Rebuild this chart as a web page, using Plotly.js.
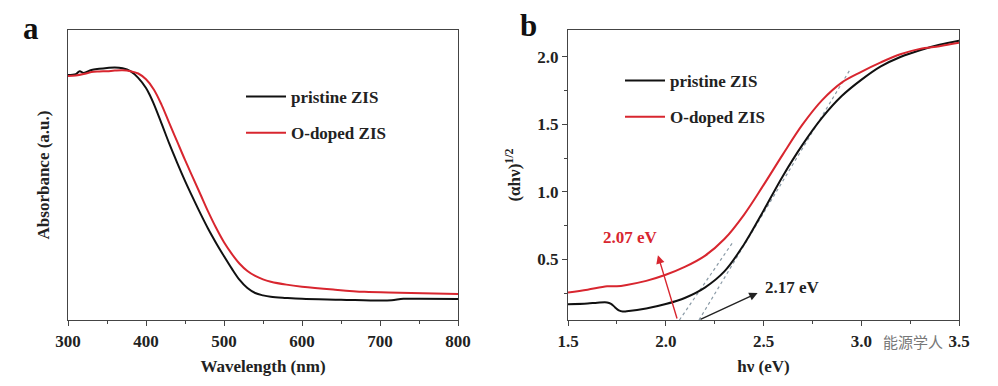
<!DOCTYPE html>
<html><head><meta charset="utf-8">
<script src="https://cdn.plot.ly/plotly-3.0.1.min.js"></script>
<style>html,body{margin:0;padding:0;background:#fff}#chart{width:998px;height:386px}</style>
</head><body><div id="chart"></div>
<script>
// ---- Panel a: absorbance spectra ----
const wavelength = [300,310,315,320,330,340,350,360,370,380,390,400,405,410,420,430,440,450,460,470,480,490,500,510,520,530,540,550,560,580,600,650,700,715,730,750,800];
const absPristine = [0.845,0.848,0.858,0.852,0.862,0.866,0.869,0.871,0.868,0.858,0.835,0.80,0.775,0.745,0.677,0.607,0.542,0.48,0.422,0.366,0.313,0.265,0.22,0.177,0.138,0.110,0.093,0.085,0.080,0.076,0.073,0.070,0.067,0.068,0.073,0.073,0.072];
const wavelengthRed = [300,310,320,330,340,350,360,370,380,390,400,410,420,430,440,450,460,470,480,490,500,510,520,530,540,550,560,580,600,640,680,725,800];
const absDoped = [0.841,0.843,0.848,0.855,0.857,0.858,0.86,0.861,0.858,0.85,0.83,0.795,0.742,0.678,0.615,0.552,0.492,0.432,0.372,0.317,0.268,0.228,0.194,0.169,0.152,0.14,0.132,0.122,0.115,0.105,0.097,0.094,0.09];

// ---- Panel b: Tauc plot ----
const energyBlack = [1.5,1.6,1.65,1.7,1.72,1.74,1.76,1.78,1.8,1.9,2.0,2.1,2.2,2.3,2.4,2.5,2.6,2.7,2.8,2.9,3.0,3.1,3.2,3.3,3.4,3.5];
const taucPristine = [0.166,0.172,0.178,0.18,0.17,0.145,0.122,0.113,0.115,0.135,0.168,0.215,0.29,0.41,0.61,0.86,1.12,1.35,1.55,1.71,1.83,1.93,2.0,2.05,2.09,2.12];
const energyRed = [1.5,1.6,1.7,1.75,1.8,1.9,2.0,2.1,2.2,2.3,2.4,2.5,2.6,2.7,2.8,2.9,3.0,3.1,3.2,3.3,3.4,3.5];
const taucDoped = [0.253,0.275,0.30,0.30,0.31,0.34,0.385,0.445,0.525,0.65,0.83,1.05,1.28,1.50,1.68,1.81,1.89,1.96,2.02,2.06,2.08,2.105];

// tangent (extrapolation) lines
const tangentBlackX = [2.17, 2.94];
const tangentBlackY = [0.05, 1.90];
const tangentRedX = [2.07, 2.34];
const tangentRedY = [0.05, 0.62];

const seriesNames = ['pristine ZIS', 'O-doped ZIS'];
const gapLabels = ['2.07 eV', '2.17 eV'];

const RED = '#d8262f';
const BLK = '#111111';
const SERIF = 'Liberation Serif, Times New Roman, serif';
const tickF = {family: SERIF, size: 17, color: '#222', weight: 700};
const titleF = {family: SERIF, size: 17, color: '#222', weight: 700};
const LINE = {width: 2, shape: 'spline', smoothing: 1};

const traces = [
  {x: wavelength, y: absPristine, type: 'scatter', mode: 'lines', name: seriesNames[0], line: Object.assign({color: BLK}, LINE), xaxis: 'x', yaxis: 'y', legend: 'legend', legendgroup: 'a1'},
  {x: wavelengthRed, y: absDoped, type: 'scatter', mode: 'lines', name: seriesNames[1], line: Object.assign({color: RED}, LINE), xaxis: 'x', yaxis: 'y', legend: 'legend', legendgroup: 'a2'},
  {x: tangentBlackX, y: tangentBlackY, type: 'scatter', mode: 'lines', showlegend: false, line: {color: '#8a9aa6', width: 1.2, dash: 'dot'}, xaxis: 'x2', yaxis: 'y2', hoverinfo: 'skip'},
  {x: tangentRedX, y: tangentRedY, type: 'scatter', mode: 'lines', showlegend: false, line: {color: '#8a9aa6', width: 1.2, dash: 'dot'}, xaxis: 'x2', yaxis: 'y2', hoverinfo: 'skip'},
  {x: energyBlack, y: taucPristine, type: 'scatter', mode: 'lines', name: seriesNames[0], line: Object.assign({color: BLK}, LINE), xaxis: 'x2', yaxis: 'y2', legend: 'legend2', legendgroup: 'b1'},
  {x: energyRed, y: taucDoped, type: 'scatter', mode: 'lines', name: seriesNames[1], line: Object.assign({color: RED}, LINE), xaxis: 'x2', yaxis: 'y2', legend: 'legend2', legendgroup: 'b2'}
];

const axisCommon = {showline: true, mirror: true, linecolor: '#444', linewidth: 1.2, showgrid: false, zeroline: false, ticks: 'outside', ticklen: 5, tickwidth: 1, tickcolor: '#444', tickfont: tickF};
const yDom = [1 - 320/386, 1 - 30/386];

const layout = {
  width: 998, height: 386,
  margin: {l: 0, r: 0, t: 0, b: 0},
  paper_bgcolor: '#fff', plot_bgcolor: '#fff',
  showlegend: true,
  xaxis: Object.assign({}, axisCommon, {domain: [68/998, 458/998], range: [300, 800], dtick: 100, tick0: 300,
    minor: {ticks: 'outside', ticklen: 3, dtick: 50, tickcolor: '#444'},
    title: {text: 'Wavelength (nm)', font: titleF, standoff: 10}, anchor: 'y'}),
  yaxis: Object.assign({}, axisCommon, {domain: yDom, range: [0, 1], ticks: '', showticklabels: false,
    title: {text: 'Absorbance (a.u.)', font: titleF, standoff: 12}, anchor: 'x'}),
  xaxis2: Object.assign({}, axisCommon, {domain: [568/998, 959/998], range: [1.5, 3.5], dtick: 0.5, tick0: 1.5, tickformat: '.1f',
    minor: {ticks: 'outside', ticklen: 3, dtick: 0.25, tickcolor: '#444'},
    title: {text: 'hν (eV)', font: titleF, standoff: 10}, anchor: 'y2'}),
  yaxis2: Object.assign({}, axisCommon, {domain: yDom, range: [0.05, 2.2], dtick: 0.5, tick0: 0, tickformat: '.1f',
    minor: {ticks: 'outside', ticklen: 3, dtick: 0.25, tickcolor: '#444'},
    title: {text: '(αhν)<sup>1/2</sup>', font: titleF, standoff: 12}, anchor: 'x2'}),
  legend: {x: 241/998, y: 1 - 79/386, xanchor: 'left', yanchor: 'top', bgcolor: 'rgba(0,0,0,0)', font: {family: SERIF, size: 17, color: '#222', weight: 700}, tracegroupgap: 11, itemwidth: 40},
  legend2: {x: 620/998, y: 1 - 63/386, xanchor: 'left', yanchor: 'top', bgcolor: 'rgba(0,0,0,0)', font: {family: SERIF, size: 17, color: '#222', weight: 700}, tracegroupgap: 11, itemwidth: 40},
  annotations: [
    {xref: 'paper', yref: 'paper', x: 21/998, y: 1 - 28/386, xanchor: 'left', yanchor: 'middle', text: 'a', showarrow: false, font: {family: SERIF, size: 31, color: '#111', weight: 700}},
    {xref: 'paper', yref: 'paper', x: 518/998, y: 1 - 25/386, xanchor: 'left', yanchor: 'middle', text: 'b', showarrow: false, font: {family: SERIF, size: 31, color: '#111', weight: 700}},
    {xref: 'x2', yref: 'y2', x: 1.96, y: 0.53, axref: 'x2', ayref: 'y2', ax: 2.06, ay: 0.05, showarrow: true, arrowhead: 2, arrowsize: 1.2, arrowwidth: 1.4, arrowcolor: RED, text: ''},
    {xref: 'x2', yref: 'y2', x: 2.47, y: 0.25, axref: 'x2', ayref: 'y2', ax: 2.17, ay: 0.05, showarrow: true, arrowhead: 2, arrowsize: 1.2, arrowwidth: 1.4, arrowcolor: '#222', text: ''},
    {xref: 'x2', yref: 'y2', x: 1.82, y: 0.66, text: gapLabels[0], showarrow: false, font: {family: SERIF, size: 17, color: RED, weight: 700}},
    {xref: 'x2', yref: 'y2', x: 2.65, y: 0.29, text: gapLabels[1], showarrow: false, font: {family: SERIF, size: 17, color: '#222', weight: 700}},
    {xref: 'paper', yref: 'paper', x: 913/998, y: 1 - 341/386, xanchor: 'center', yanchor: 'middle', text: '能源学人', showarrow: false, font: {family: 'Noto Sans CJK SC', size: 15, color: '#777'}}
  ]
};

Plotly.newPlot('chart', traces, layout, {staticPlot: true, displayModeBar: false});
</script>
</body></html>
